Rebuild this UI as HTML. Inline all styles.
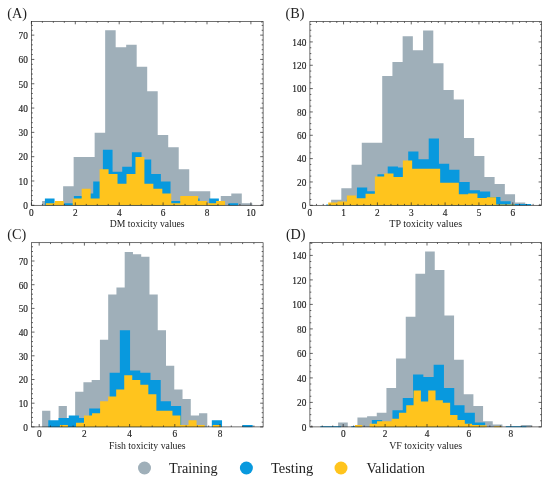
<!DOCTYPE html>
<html><head><meta charset="utf-8"><title>Toxicity histograms</title>
<style>
html,body{margin:0;padding:0;background:#fff;}
svg{display:block;}
text{font-family:"Liberation Serif", "DejaVu Serif", serif;fill:#222;}
.tk{font-size:9.6px;stroke:#222;stroke-width:0.15px;}
.al{font-size:9.4px;}
.pl{font-size:14.2px;}
.lg{font-size:14.3px;}
</style></head><body>
<svg width="550" height="482" viewBox="0 0 550 482">
<rect x="0" y="0" width="550" height="482" fill="#fff"/>
<g>
<clipPath id="cA"><rect x="31.4" y="21.4" width="231.7" height="184.2"/></clipPath>
<g clip-path="url(#cA)">
<path d="M42.1 205.8 L42.1 200.92 L52.61 200.92 L52.61 203.36 L63.12 203.36 L63.12 186.29 L73.63 186.29 L73.63 157.02 L84.14 157.02 L84.14 157.02 L94.65 157.02 L94.65 132.63 L105.16 132.63 L105.16 30.19 L115.67 30.19 L115.67 47.27 L126.18 47.27 L126.18 44.83 L136.69 44.83 L136.69 66.78 L147.2 66.78 L147.2 91.17 L157.71 91.17 L157.71 135.07 L168.22 135.07 L168.22 147.26 L178.73 147.26 L178.73 169.22 L189.24 169.22 L189.24 191.17 L199.75 191.17 L199.75 191.17 L210.26 191.17 L210.26 200.92 L220.77 200.92 L220.77 196.04 L231.28 196.04 L231.28 193.61 L241.79 193.61 L241.79 203.36 L252.3 203.36 L252.3 205.8 Z" fill="#9fafb9"/>
<path d="M44.9 205.8 L44.9 198.48 L54.56 198.48 L54.56 205.8 L64.23 205.8 L64.23 203.36 L73.89 203.36 L73.89 196.04 L83.56 196.04 L83.56 193.61 L93.22 193.61 L93.22 181.41 L102.89 181.41 L102.89 149.7 L112.56 149.7 L112.56 171.65 L122.22 171.65 L122.22 166.78 L131.88 166.78 L131.88 152.14 L141.55 152.14 L141.55 159.46 L151.22 159.46 L151.22 174.09 L160.88 174.09 L160.88 181.41 L170.54 181.41 L170.54 200.92 L180.21 200.92 L180.21 200.92 L189.88 200.92 L189.88 198.48 L199.54 198.48 L199.54 205.8 L209.2 205.8 L209.2 198.48 L218.87 198.48 L218.87 205.8 L228.53 205.8 L228.53 203.36 L238.2 203.36 L238.2 205.8 Z" fill="#0899de"/>
<path d="M45.85 205.8 L45.85 203.36 L54.81 203.36 L54.81 200.92 L63.77 200.92 L63.77 205.8 L72.73 205.8 L72.73 198.48 L81.69 198.48 L81.69 188.73 L90.65 188.73 L90.65 198.48 L99.61 198.48 L99.61 169.22 L108.57 169.22 L108.57 174.09 L117.53 174.09 L117.53 183.85 L126.49 183.85 L126.49 174.09 L135.45 174.09 L135.45 157.02 L144.41 157.02 L144.41 183.85 L153.37 183.85 L153.37 188.73 L162.33 188.73 L162.33 193.61 L171.29 193.61 L171.29 203.36 L180.25 203.36 L180.25 196.04 L189.21 196.04 L189.21 196.04 L198.17 196.04 L198.17 200.92 L207.13 200.92 L207.13 203.36 L216.09 203.36 L216.09 200.92 L225.05 200.92 L225.05 205.8 Z" fill="#ffc41d"/>
</g>
<path d="M31.4 205.3 v-2.9 M31.4 21.4 v2.9 M42.38 205.3 v-1.4 M42.38 21.4 v1.4 M53.35 205.3 v-1.4 M53.35 21.4 v1.4 M64.32 205.3 v-1.4 M64.32 21.4 v1.4 M75.3 205.3 v-2.9 M75.3 21.4 v2.9 M86.28 205.3 v-1.4 M86.28 21.4 v1.4 M97.25 205.3 v-1.4 M97.25 21.4 v1.4 M108.22 205.3 v-1.4 M108.22 21.4 v1.4 M119.2 205.3 v-2.9 M119.2 21.4 v2.9 M130.17 205.3 v-1.4 M130.17 21.4 v1.4 M141.15 205.3 v-1.4 M141.15 21.4 v1.4 M152.12 205.3 v-1.4 M152.12 21.4 v1.4 M163.1 205.3 v-2.9 M163.1 21.4 v2.9 M174.07 205.3 v-1.4 M174.07 21.4 v1.4 M185.05 205.3 v-1.4 M185.05 21.4 v1.4 M196.03 205.3 v-1.4 M196.03 21.4 v1.4 M207 205.3 v-2.9 M207 21.4 v2.9 M217.97 205.3 v-1.4 M217.97 21.4 v1.4 M228.95 205.3 v-1.4 M228.95 21.4 v1.4 M239.93 205.3 v-1.4 M239.93 21.4 v1.4 M250.9 205.3 v-2.9 M250.9 21.4 v2.9 M261.88 205.3 v-1.4 M261.88 21.4 v1.4 M31.4 205.3 h2.9 M263.1 205.3 h-2.9 M31.4 200.44 h1.4 M263.1 200.44 h-1.4 M31.4 195.58 h1.4 M263.1 195.58 h-1.4 M31.4 190.71 h1.4 M263.1 190.71 h-1.4 M31.4 185.85 h1.4 M263.1 185.85 h-1.4 M31.4 180.99 h2.9 M263.1 180.99 h-2.9 M31.4 176.13 h1.4 M263.1 176.13 h-1.4 M31.4 171.27 h1.4 M263.1 171.27 h-1.4 M31.4 166.4 h1.4 M263.1 166.4 h-1.4 M31.4 161.54 h1.4 M263.1 161.54 h-1.4 M31.4 156.68 h2.9 M263.1 156.68 h-2.9 M31.4 151.82 h1.4 M263.1 151.82 h-1.4 M31.4 146.96 h1.4 M263.1 146.96 h-1.4 M31.4 142.09 h1.4 M263.1 142.09 h-1.4 M31.4 137.23 h1.4 M263.1 137.23 h-1.4 M31.4 132.37 h2.9 M263.1 132.37 h-2.9 M31.4 127.51 h1.4 M263.1 127.51 h-1.4 M31.4 122.65 h1.4 M263.1 122.65 h-1.4 M31.4 117.78 h1.4 M263.1 117.78 h-1.4 M31.4 112.92 h1.4 M263.1 112.92 h-1.4 M31.4 108.06 h2.9 M263.1 108.06 h-2.9 M31.4 103.2 h1.4 M263.1 103.2 h-1.4 M31.4 98.34 h1.4 M263.1 98.34 h-1.4 M31.4 93.47 h1.4 M263.1 93.47 h-1.4 M31.4 88.61 h1.4 M263.1 88.61 h-1.4 M31.4 83.75 h2.9 M263.1 83.75 h-2.9 M31.4 78.89 h1.4 M263.1 78.89 h-1.4 M31.4 74.03 h1.4 M263.1 74.03 h-1.4 M31.4 69.16 h1.4 M263.1 69.16 h-1.4 M31.4 64.3 h1.4 M263.1 64.3 h-1.4 M31.4 59.44 h2.9 M263.1 59.44 h-2.9 M31.4 54.58 h1.4 M263.1 54.58 h-1.4 M31.4 49.72 h1.4 M263.1 49.72 h-1.4 M31.4 44.85 h1.4 M263.1 44.85 h-1.4 M31.4 39.99 h1.4 M263.1 39.99 h-1.4 M31.4 35.13 h2.9 M263.1 35.13 h-2.9 M31.4 30.27 h1.4 M263.1 30.27 h-1.4 M31.4 25.41 h1.4 M263.1 25.41 h-1.4" stroke="#222" stroke-width="0.7" fill="none"/>
<rect x="31.4" y="21.4" width="231.7" height="183.9" fill="none" stroke="#222" stroke-width="0.65"/>
<text class="tk" x="31.4" y="215.7" text-anchor="middle" textLength="4.65" lengthAdjust="spacingAndGlyphs">0</text>
<text class="tk" x="75.3" y="215.7" text-anchor="middle" textLength="4.65" lengthAdjust="spacingAndGlyphs">2</text>
<text class="tk" x="119.2" y="215.7" text-anchor="middle" textLength="4.65" lengthAdjust="spacingAndGlyphs">4</text>
<text class="tk" x="163.1" y="215.7" text-anchor="middle" textLength="4.65" lengthAdjust="spacingAndGlyphs">6</text>
<text class="tk" x="207" y="215.7" text-anchor="middle" textLength="4.65" lengthAdjust="spacingAndGlyphs">8</text>
<text class="tk" x="250.9" y="215.7" text-anchor="middle" textLength="9.3" lengthAdjust="spacingAndGlyphs">10</text>
<text class="tk" x="27.8" y="209.1" text-anchor="end" textLength="4.65" lengthAdjust="spacingAndGlyphs">0</text>
<text class="tk" x="27.8" y="184.79" text-anchor="end" textLength="9.3" lengthAdjust="spacingAndGlyphs">10</text>
<text class="tk" x="27.8" y="160.48" text-anchor="end" textLength="9.3" lengthAdjust="spacingAndGlyphs">20</text>
<text class="tk" x="27.8" y="136.17" text-anchor="end" textLength="9.3" lengthAdjust="spacingAndGlyphs">30</text>
<text class="tk" x="27.8" y="111.86" text-anchor="end" textLength="9.3" lengthAdjust="spacingAndGlyphs">40</text>
<text class="tk" x="27.8" y="87.55" text-anchor="end" textLength="9.3" lengthAdjust="spacingAndGlyphs">50</text>
<text class="tk" x="27.8" y="63.24" text-anchor="end" textLength="9.3" lengthAdjust="spacingAndGlyphs">60</text>
<text class="tk" x="27.8" y="38.93" text-anchor="end" textLength="9.3" lengthAdjust="spacingAndGlyphs">70</text>
<text class="al" x="147.25" y="227.3" text-anchor="middle" textLength="74.8" lengthAdjust="spacingAndGlyphs">DM toxicity values</text>
<text class="pl" x="7.3" y="17.8">(A)</text>
</g>
<g>
<clipPath id="cB"><rect x="309.9" y="21.5" width="231.6" height="184.1"/></clipPath>
<g clip-path="url(#cB)">
<path d="M331.1 205.7 L331.1 199.86 L341.32 199.86 L341.32 188.18 L351.54 188.18 L351.54 164.82 L361.76 164.82 L361.76 142.63 L371.98 142.63 L371.98 142.63 L382.2 142.63 L382.2 76.05 L392.42 76.05 L392.42 62.04 L402.64 62.04 L402.64 36.34 L412.86 36.34 L412.86 50.36 L423.08 50.36 L423.08 30.5 L433.3 30.5 L433.3 63.2 L443.52 63.2 L443.52 90.07 L453.74 90.07 L453.74 99.41 L463.96 99.41 L463.96 137.96 L474.18 137.96 L474.18 156.06 L484.4 156.06 L484.4 177.08 L494.62 177.08 L494.62 184.09 L504.84 184.09 L504.84 194.25 L515.06 194.25 L515.06 202.43 L525.28 202.43 L525.28 205.7 Z" fill="#9fafb9"/>
<path d="M326.2 205.7 L326.2 204.53 L336.45 204.53 L336.45 203.36 L346.7 203.36 L346.7 199.86 L356.95 199.86 L356.95 187.48 L367.2 187.48 L367.2 191.33 L377.45 191.33 L377.45 174.16 L387.7 174.16 L387.7 166.46 L397.95 166.46 L397.95 167.39 L408.2 167.39 L408.2 151.5 L418.45 151.5 L418.45 159.21 L428.7 159.21 L428.7 138.42 L438.95 138.42 L438.95 163.65 L449.2 163.65 L449.2 169.73 L459.45 169.73 L459.45 181.99 L469.7 181.99 L469.7 190.28 L479.95 190.28 L479.95 191.57 L490.2 191.57 L490.2 196.94 L500.45 196.94 L500.45 201.26 L510.7 201.26 L510.7 204.06 L520.95 204.06 L520.95 204.06 L531.2 204.06 L531.2 205.7 Z" fill="#0899de"/>
<path d="M328.2 205.7 L328.2 202.43 L337.53 202.43 L337.53 201.5 L346.86 201.5 L346.86 195.54 L356.19 195.54 L356.19 198.22 L365.52 198.22 L365.52 193.79 L374.85 193.79 L374.85 176.5 L384.18 176.5 L384.18 173.46 L393.51 173.46 L393.51 176.97 L402.84 176.97 L402.84 160.38 L412.17 160.38 L412.17 168.79 L421.5 168.79 L421.5 168.79 L430.83 168.79 L430.83 168.79 L440.16 168.79 L440.16 182.69 L449.49 182.69 L449.49 182.69 L458.82 182.69 L458.82 194.25 L468.15 194.25 L468.15 193.44 L477.48 193.44 L477.48 198.11 L486.81 198.11 L486.81 197.17 L496.14 197.17 L496.14 204.53 L505.47 204.53 L505.47 204.53 L514.8 204.53 L514.8 205.7 Z" fill="#ffc41d"/>
</g>
<path d="M316.47 205.3 v-1.4 M316.47 21.5 v1.4 M323.24 205.3 v-1.4 M323.24 21.5 v1.4 M330.01 205.3 v-1.4 M330.01 21.5 v1.4 M336.78 205.3 v-1.4 M336.78 21.5 v1.4 M343.55 205.3 v-2.9 M343.55 21.5 v2.9 M350.32 205.3 v-1.4 M350.32 21.5 v1.4 M357.09 205.3 v-1.4 M357.09 21.5 v1.4 M363.86 205.3 v-1.4 M363.86 21.5 v1.4 M370.63 205.3 v-1.4 M370.63 21.5 v1.4 M377.4 205.3 v-2.9 M377.4 21.5 v2.9 M384.17 205.3 v-1.4 M384.17 21.5 v1.4 M390.94 205.3 v-1.4 M390.94 21.5 v1.4 M397.71 205.3 v-1.4 M397.71 21.5 v1.4 M404.48 205.3 v-1.4 M404.48 21.5 v1.4 M411.25 205.3 v-2.9 M411.25 21.5 v2.9 M418.02 205.3 v-1.4 M418.02 21.5 v1.4 M424.79 205.3 v-1.4 M424.79 21.5 v1.4 M431.56 205.3 v-1.4 M431.56 21.5 v1.4 M438.33 205.3 v-1.4 M438.33 21.5 v1.4 M445.1 205.3 v-2.9 M445.1 21.5 v2.9 M451.87 205.3 v-1.4 M451.87 21.5 v1.4 M458.64 205.3 v-1.4 M458.64 21.5 v1.4 M465.41 205.3 v-1.4 M465.41 21.5 v1.4 M472.18 205.3 v-1.4 M472.18 21.5 v1.4 M478.95 205.3 v-2.9 M478.95 21.5 v2.9 M485.72 205.3 v-1.4 M485.72 21.5 v1.4 M492.49 205.3 v-1.4 M492.49 21.5 v1.4 M499.26 205.3 v-1.4 M499.26 21.5 v1.4 M506.03 205.3 v-1.4 M506.03 21.5 v1.4 M512.8 205.3 v-2.9 M512.8 21.5 v2.9 M519.57 205.3 v-1.4 M519.57 21.5 v1.4 M526.34 205.3 v-1.4 M526.34 21.5 v1.4 M533.11 205.3 v-1.4 M533.11 21.5 v1.4 M539.88 205.3 v-1.4 M539.88 21.5 v1.4 M309.9 205.3 h2.9 M541.5 205.3 h-2.9 M309.9 199.47 h1.4 M541.5 199.47 h-1.4 M309.9 193.63 h1.4 M541.5 193.63 h-1.4 M309.9 187.8 h1.4 M541.5 187.8 h-1.4 M309.9 181.96 h2.9 M541.5 181.96 h-2.9 M309.9 176.12 h1.4 M541.5 176.12 h-1.4 M309.9 170.29 h1.4 M541.5 170.29 h-1.4 M309.9 164.46 h1.4 M541.5 164.46 h-1.4 M309.9 158.62 h2.9 M541.5 158.62 h-2.9 M309.9 152.79 h1.4 M541.5 152.79 h-1.4 M309.9 146.95 h1.4 M541.5 146.95 h-1.4 M309.9 141.12 h1.4 M541.5 141.12 h-1.4 M309.9 135.28 h2.9 M541.5 135.28 h-2.9 M309.9 129.44 h1.4 M541.5 129.44 h-1.4 M309.9 123.61 h1.4 M541.5 123.61 h-1.4 M309.9 117.78 h1.4 M541.5 117.78 h-1.4 M309.9 111.94 h2.9 M541.5 111.94 h-2.9 M309.9 106.11 h1.4 M541.5 106.11 h-1.4 M309.9 100.27 h1.4 M541.5 100.27 h-1.4 M309.9 94.44 h1.4 M541.5 94.44 h-1.4 M309.9 88.6 h2.9 M541.5 88.6 h-2.9 M309.9 82.77 h1.4 M541.5 82.77 h-1.4 M309.9 76.93 h1.4 M541.5 76.93 h-1.4 M309.9 71.09 h1.4 M541.5 71.09 h-1.4 M309.9 65.26 h2.9 M541.5 65.26 h-2.9 M309.9 59.43 h1.4 M541.5 59.43 h-1.4 M309.9 53.59 h1.4 M541.5 53.59 h-1.4 M309.9 47.75 h1.4 M541.5 47.75 h-1.4 M309.9 41.92 h2.9 M541.5 41.92 h-2.9 M309.9 36.09 h1.4 M541.5 36.09 h-1.4 M309.9 30.25 h1.4 M541.5 30.25 h-1.4 M309.9 24.41 h1.4 M541.5 24.41 h-1.4" stroke="#222" stroke-width="0.7" fill="none"/>
<rect x="309.9" y="21.5" width="231.6" height="183.8" fill="none" stroke="#222" stroke-width="0.65"/>
<text class="tk" x="309.7" y="215.7" text-anchor="middle" textLength="4.65" lengthAdjust="spacingAndGlyphs">0</text>
<text class="tk" x="343.55" y="215.7" text-anchor="middle" textLength="4.65" lengthAdjust="spacingAndGlyphs">1</text>
<text class="tk" x="377.4" y="215.7" text-anchor="middle" textLength="4.65" lengthAdjust="spacingAndGlyphs">2</text>
<text class="tk" x="411.25" y="215.7" text-anchor="middle" textLength="4.65" lengthAdjust="spacingAndGlyphs">3</text>
<text class="tk" x="445.1" y="215.7" text-anchor="middle" textLength="4.65" lengthAdjust="spacingAndGlyphs">4</text>
<text class="tk" x="478.95" y="215.7" text-anchor="middle" textLength="4.65" lengthAdjust="spacingAndGlyphs">5</text>
<text class="tk" x="512.8" y="215.7" text-anchor="middle" textLength="4.65" lengthAdjust="spacingAndGlyphs">6</text>
<text class="tk" x="306.3" y="209.1" text-anchor="end" textLength="4.65" lengthAdjust="spacingAndGlyphs">0</text>
<text class="tk" x="306.3" y="185.76" text-anchor="end" textLength="9.3" lengthAdjust="spacingAndGlyphs">20</text>
<text class="tk" x="306.3" y="162.42" text-anchor="end" textLength="9.3" lengthAdjust="spacingAndGlyphs">40</text>
<text class="tk" x="306.3" y="139.08" text-anchor="end" textLength="9.3" lengthAdjust="spacingAndGlyphs">60</text>
<text class="tk" x="306.3" y="115.74" text-anchor="end" textLength="9.3" lengthAdjust="spacingAndGlyphs">80</text>
<text class="tk" x="306.3" y="92.4" text-anchor="end" textLength="13.95" lengthAdjust="spacingAndGlyphs">100</text>
<text class="tk" x="306.3" y="69.06" text-anchor="end" textLength="13.95" lengthAdjust="spacingAndGlyphs">120</text>
<text class="tk" x="306.3" y="45.72" text-anchor="end" textLength="13.95" lengthAdjust="spacingAndGlyphs">140</text>
<text class="al" x="425.7" y="227.3" text-anchor="middle" textLength="72.7" lengthAdjust="spacingAndGlyphs">TP toxicity values</text>
<text class="pl" x="285.6" y="17.8">(B)</text>
</g>
<g>
<clipPath id="cC"><rect x="31.6" y="242.7" width="231.5" height="184.5"/></clipPath>
<g clip-path="url(#cC)">
<path d="M42.1 427.4 L42.1 410.8 L50.36 410.8 L50.36 422.66 L58.62 422.66 L58.62 406.06 L66.88 406.06 L66.88 420.29 L75.14 420.29 L75.14 391.83 L83.4 391.83 L83.4 382.34 L91.66 382.34 L91.66 379.97 L99.92 379.97 L99.92 339.65 L108.18 339.65 L108.18 294.59 L116.44 294.59 L116.44 287.48 L124.7 287.48 L124.7 251.9 L132.96 251.9 L132.96 254.27 L141.22 254.27 L141.22 256.64 L149.48 256.64 L149.48 294.59 L157.74 294.59 L157.74 330.16 L166 330.16 L166 365.74 L174.26 365.74 L174.26 389.45 L182.52 389.45 L182.52 398.94 L190.78 398.94 L190.78 415.54 L199.04 415.54 L199.04 413.17 L207.3 413.17 L207.3 427.4 Z" fill="#9fafb9"/>
<path d="M48.3 427.4 L48.3 420.29 L58.52 420.29 L58.52 417.91 L68.74 417.91 L68.74 415.54 L78.96 415.54 L78.96 417.91 L89.18 417.91 L89.18 408.43 L99.4 408.43 L99.4 408.43 L109.62 408.43 L109.62 372.85 L119.84 372.85 L119.84 330.16 L130.06 330.16 L130.06 370.48 L140.28 370.48 L140.28 372.85 L150.5 372.85 L150.5 379.97 L160.72 379.97 L160.72 401.31 L170.94 401.31 L170.94 406.06 L181.16 406.06 L181.16 427.4 L191.38 427.4 L191.38 427.4 L201.6 427.4 L201.6 427.4 L211.82 427.4 L211.82 420.29 L222.04 420.29 L222.04 427.4 L232.26 427.4 L232.26 427.4 L242.48 427.4 L242.48 425.03 L252.7 425.03 L252.7 427.4 Z" fill="#0899de"/>
<path d="M59.9 427.4 L59.9 425.03 L67.94 425.03 L67.94 427.4 L75.98 427.4 L75.98 422.66 L84.02 422.66 L84.02 415.54 L92.06 415.54 L92.06 413.17 L100.1 413.17 L100.1 401.31 L108.14 401.31 L108.14 396.57 L116.18 396.57 L116.18 389.45 L124.22 389.45 L124.22 375.22 L132.26 375.22 L132.26 379.97 L140.3 379.97 L140.3 384.71 L148.34 384.71 L148.34 394.2 L156.38 394.2 L156.38 410.8 L164.42 410.8 L164.42 410.8 L172.46 410.8 L172.46 415.54 L180.5 415.54 L180.5 425.03 L188.54 425.03 L188.54 420.29 L196.58 420.29 L196.58 425.03 L204.62 425.03 L204.62 427.4 L212.66 427.4 L212.66 425.03 L220.7 425.03 L220.7 427.4 Z" fill="#ffc41d"/>
</g>
<path d="M39.2 426.9 v-2.9 M39.2 242.7 v2.9 M50.5 426.9 v-1.4 M50.5 242.7 v1.4 M61.8 426.9 v-1.4 M61.8 242.7 v1.4 M73.1 426.9 v-1.4 M73.1 242.7 v1.4 M84.4 426.9 v-2.9 M84.4 242.7 v2.9 M95.7 426.9 v-1.4 M95.7 242.7 v1.4 M107 426.9 v-1.4 M107 242.7 v1.4 M118.3 426.9 v-1.4 M118.3 242.7 v1.4 M129.6 426.9 v-2.9 M129.6 242.7 v2.9 M140.9 426.9 v-1.4 M140.9 242.7 v1.4 M152.2 426.9 v-1.4 M152.2 242.7 v1.4 M163.5 426.9 v-1.4 M163.5 242.7 v1.4 M174.8 426.9 v-2.9 M174.8 242.7 v2.9 M186.1 426.9 v-1.4 M186.1 242.7 v1.4 M197.4 426.9 v-1.4 M197.4 242.7 v1.4 M208.7 426.9 v-1.4 M208.7 242.7 v1.4 M220 426.9 v-2.9 M220 242.7 v2.9 M231.3 426.9 v-1.4 M231.3 242.7 v1.4 M242.6 426.9 v-1.4 M242.6 242.7 v1.4 M253.9 426.9 v-1.4 M253.9 242.7 v1.4 M31.6 426.9 h2.9 M263.1 426.9 h-2.9 M31.6 422.16 h1.4 M263.1 422.16 h-1.4 M31.6 417.42 h1.4 M263.1 417.42 h-1.4 M31.6 412.68 h1.4 M263.1 412.68 h-1.4 M31.6 407.94 h1.4 M263.1 407.94 h-1.4 M31.6 403.2 h2.9 M263.1 403.2 h-2.9 M31.6 398.46 h1.4 M263.1 398.46 h-1.4 M31.6 393.72 h1.4 M263.1 393.72 h-1.4 M31.6 388.98 h1.4 M263.1 388.98 h-1.4 M31.6 384.24 h1.4 M263.1 384.24 h-1.4 M31.6 379.5 h2.9 M263.1 379.5 h-2.9 M31.6 374.76 h1.4 M263.1 374.76 h-1.4 M31.6 370.02 h1.4 M263.1 370.02 h-1.4 M31.6 365.28 h1.4 M263.1 365.28 h-1.4 M31.6 360.54 h1.4 M263.1 360.54 h-1.4 M31.6 355.8 h2.9 M263.1 355.8 h-2.9 M31.6 351.06 h1.4 M263.1 351.06 h-1.4 M31.6 346.32 h1.4 M263.1 346.32 h-1.4 M31.6 341.58 h1.4 M263.1 341.58 h-1.4 M31.6 336.84 h1.4 M263.1 336.84 h-1.4 M31.6 332.1 h2.9 M263.1 332.1 h-2.9 M31.6 327.36 h1.4 M263.1 327.36 h-1.4 M31.6 322.62 h1.4 M263.1 322.62 h-1.4 M31.6 317.88 h1.4 M263.1 317.88 h-1.4 M31.6 313.14 h1.4 M263.1 313.14 h-1.4 M31.6 308.4 h2.9 M263.1 308.4 h-2.9 M31.6 303.66 h1.4 M263.1 303.66 h-1.4 M31.6 298.92 h1.4 M263.1 298.92 h-1.4 M31.6 294.18 h1.4 M263.1 294.18 h-1.4 M31.6 289.44 h1.4 M263.1 289.44 h-1.4 M31.6 284.7 h2.9 M263.1 284.7 h-2.9 M31.6 279.96 h1.4 M263.1 279.96 h-1.4 M31.6 275.22 h1.4 M263.1 275.22 h-1.4 M31.6 270.48 h1.4 M263.1 270.48 h-1.4 M31.6 265.74 h1.4 M263.1 265.74 h-1.4 M31.6 261 h2.9 M263.1 261 h-2.9 M31.6 256.26 h1.4 M263.1 256.26 h-1.4 M31.6 251.52 h1.4 M263.1 251.52 h-1.4 M31.6 246.78 h1.4 M263.1 246.78 h-1.4" stroke="#222" stroke-width="0.7" fill="none"/>
<rect x="31.6" y="242.7" width="231.5" height="184.2" fill="none" stroke="#222" stroke-width="0.65"/>
<text class="tk" x="39.2" y="437.3" text-anchor="middle" textLength="4.65" lengthAdjust="spacingAndGlyphs">0</text>
<text class="tk" x="84.4" y="437.3" text-anchor="middle" textLength="4.65" lengthAdjust="spacingAndGlyphs">2</text>
<text class="tk" x="129.6" y="437.3" text-anchor="middle" textLength="4.65" lengthAdjust="spacingAndGlyphs">4</text>
<text class="tk" x="174.8" y="437.3" text-anchor="middle" textLength="4.65" lengthAdjust="spacingAndGlyphs">6</text>
<text class="tk" x="220" y="437.3" text-anchor="middle" textLength="4.65" lengthAdjust="spacingAndGlyphs">8</text>
<text class="tk" x="28" y="430.7" text-anchor="end" textLength="4.65" lengthAdjust="spacingAndGlyphs">0</text>
<text class="tk" x="28" y="407" text-anchor="end" textLength="9.3" lengthAdjust="spacingAndGlyphs">10</text>
<text class="tk" x="28" y="383.3" text-anchor="end" textLength="9.3" lengthAdjust="spacingAndGlyphs">20</text>
<text class="tk" x="28" y="359.6" text-anchor="end" textLength="9.3" lengthAdjust="spacingAndGlyphs">30</text>
<text class="tk" x="28" y="335.9" text-anchor="end" textLength="9.3" lengthAdjust="spacingAndGlyphs">40</text>
<text class="tk" x="28" y="312.2" text-anchor="end" textLength="9.3" lengthAdjust="spacingAndGlyphs">50</text>
<text class="tk" x="28" y="288.5" text-anchor="end" textLength="9.3" lengthAdjust="spacingAndGlyphs">60</text>
<text class="tk" x="28" y="264.8" text-anchor="end" textLength="9.3" lengthAdjust="spacingAndGlyphs">70</text>
<text class="al" x="147.35" y="448.9" text-anchor="middle" textLength="76.6" lengthAdjust="spacingAndGlyphs">Fish toxicity values</text>
<text class="pl" x="7.3" y="239.1">(C)</text>
</g>
<g>
<clipPath id="cD"><rect x="309.9" y="242.6" width="231.6" height="184.6"/></clipPath>
<g clip-path="url(#cD)">
<path d="M338.1 427.4 L338.1 422.48 L347.77 422.48 L347.77 427.4 L357.43 427.4 L357.43 417.56 L367.1 417.56 L367.1 416.34 L376.76 416.34 L376.76 412.65 L386.43 412.65 L386.43 388.06 L396.09 388.06 L396.09 358.55 L405.75 358.55 L405.75 316.75 L415.42 316.75 L415.42 273.72 L425.09 273.72 L425.09 251.6 L434.75 251.6 L434.75 270.04 L444.42 270.04 L444.42 315.52 L454.08 315.52 L454.08 359.78 L463.75 359.78 L463.75 394.21 L473.41 394.21 L473.41 405.89 L483.08 405.89 L483.08 421.25 L492.74 421.25 L492.74 424.57 L502.4 424.57 L502.4 427.4 L512.07 427.4 L512.07 427.4 L521.74 427.4 L521.74 424.94 L531.4 424.94 L531.4 427.4 Z" fill="#9fafb9"/>
<path d="M320.35 427.4 L320.35 426.17 L330.65 426.17 L330.65 426.17 L340.95 426.17 L340.95 427.4 L351.25 427.4 L351.25 426.17 L361.55 426.17 L361.55 427.4 L371.85 427.4 L371.85 420.02 L382.15 420.02 L382.15 423.71 L392.45 423.71 L392.45 410.19 L402.75 410.19 L402.75 397.89 L413.05 397.89 L413.05 374.54 L423.35 374.54 L423.35 376.99 L433.65 376.99 L433.65 364.7 L443.95 364.7 L443.95 388.06 L454.25 388.06 L454.25 405.27 L464.55 405.27 L464.55 412.65 L474.85 412.65 L474.85 422.48 L485.15 422.48 L485.15 427.4 L495.45 427.4 L495.45 427.4 L505.75 427.4 L505.75 426.17 L516.05 426.17 L516.05 426.17 L526.35 426.17 L526.35 427.4 Z" fill="#0899de"/>
<path d="M355 427.4 L355 424.94 L362.32 424.94 L362.32 427.4 L369.64 427.4 L369.64 423.71 L376.96 423.71 L376.96 421.25 L384.28 421.25 L384.28 421.25 L391.6 421.25 L391.6 418.79 L398.92 418.79 L398.92 412.65 L406.24 412.65 L406.24 405.27 L413.56 405.27 L413.56 390.52 L420.88 390.52 L420.88 401.58 L428.2 401.58 L428.2 390.52 L435.52 390.52 L435.52 400.35 L442.84 400.35 L442.84 402.81 L450.16 402.81 L450.16 415.11 L457.48 415.11 L457.48 420.02 L464.8 420.02 L464.8 423.71 L472.12 423.71 L472.12 424.94 L479.44 424.94 L479.44 425.31 L486.76 425.31 L486.76 427.4 L494.08 427.4 L494.08 426.17 L501.4 426.17 L501.4 427.4 Z" fill="#ffc41d"/>
</g>
<path d="M311.77 426.9 v-1.4 M311.77 242.6 v1.4 M322.25 426.9 v-1.4 M322.25 242.6 v1.4 M332.72 426.9 v-1.4 M332.72 242.6 v1.4 M343.2 426.9 v-2.9 M343.2 242.6 v2.9 M353.68 426.9 v-1.4 M353.68 242.6 v1.4 M364.15 426.9 v-1.4 M364.15 242.6 v1.4 M374.62 426.9 v-1.4 M374.62 242.6 v1.4 M385.1 426.9 v-2.9 M385.1 242.6 v2.9 M395.57 426.9 v-1.4 M395.57 242.6 v1.4 M406.05 426.9 v-1.4 M406.05 242.6 v1.4 M416.52 426.9 v-1.4 M416.52 242.6 v1.4 M427 426.9 v-2.9 M427 242.6 v2.9 M437.47 426.9 v-1.4 M437.47 242.6 v1.4 M447.95 426.9 v-1.4 M447.95 242.6 v1.4 M458.42 426.9 v-1.4 M458.42 242.6 v1.4 M468.9 426.9 v-2.9 M468.9 242.6 v2.9 M479.38 426.9 v-1.4 M479.38 242.6 v1.4 M489.85 426.9 v-1.4 M489.85 242.6 v1.4 M500.32 426.9 v-1.4 M500.32 242.6 v1.4 M510.8 426.9 v-2.9 M510.8 242.6 v2.9 M521.27 426.9 v-1.4 M521.27 242.6 v1.4 M531.75 426.9 v-1.4 M531.75 242.6 v1.4 M309.9 426.9 h2.9 M541.5 426.9 h-2.9 M309.9 420.77 h1.4 M541.5 420.77 h-1.4 M309.9 414.65 h1.4 M541.5 414.65 h-1.4 M309.9 408.52 h1.4 M541.5 408.52 h-1.4 M309.9 402.4 h2.9 M541.5 402.4 h-2.9 M309.9 396.27 h1.4 M541.5 396.27 h-1.4 M309.9 390.15 h1.4 M541.5 390.15 h-1.4 M309.9 384.02 h1.4 M541.5 384.02 h-1.4 M309.9 377.9 h2.9 M541.5 377.9 h-2.9 M309.9 371.77 h1.4 M541.5 371.77 h-1.4 M309.9 365.65 h1.4 M541.5 365.65 h-1.4 M309.9 359.52 h1.4 M541.5 359.52 h-1.4 M309.9 353.4 h2.9 M541.5 353.4 h-2.9 M309.9 347.27 h1.4 M541.5 347.27 h-1.4 M309.9 341.15 h1.4 M541.5 341.15 h-1.4 M309.9 335.02 h1.4 M541.5 335.02 h-1.4 M309.9 328.9 h2.9 M541.5 328.9 h-2.9 M309.9 322.77 h1.4 M541.5 322.77 h-1.4 M309.9 316.65 h1.4 M541.5 316.65 h-1.4 M309.9 310.52 h1.4 M541.5 310.52 h-1.4 M309.9 304.4 h2.9 M541.5 304.4 h-2.9 M309.9 298.27 h1.4 M541.5 298.27 h-1.4 M309.9 292.15 h1.4 M541.5 292.15 h-1.4 M309.9 286.02 h1.4 M541.5 286.02 h-1.4 M309.9 279.9 h2.9 M541.5 279.9 h-2.9 M309.9 273.77 h1.4 M541.5 273.77 h-1.4 M309.9 267.65 h1.4 M541.5 267.65 h-1.4 M309.9 261.52 h1.4 M541.5 261.52 h-1.4 M309.9 255.4 h2.9 M541.5 255.4 h-2.9 M309.9 249.27 h1.4 M541.5 249.27 h-1.4 M309.9 243.15 h1.4 M541.5 243.15 h-1.4" stroke="#222" stroke-width="0.7" fill="none"/>
<rect x="309.9" y="242.6" width="231.6" height="184.3" fill="none" stroke="#222" stroke-width="0.65"/>
<text class="tk" x="343.2" y="437.3" text-anchor="middle" textLength="4.65" lengthAdjust="spacingAndGlyphs">0</text>
<text class="tk" x="385.1" y="437.3" text-anchor="middle" textLength="4.65" lengthAdjust="spacingAndGlyphs">2</text>
<text class="tk" x="427" y="437.3" text-anchor="middle" textLength="4.65" lengthAdjust="spacingAndGlyphs">4</text>
<text class="tk" x="468.9" y="437.3" text-anchor="middle" textLength="4.65" lengthAdjust="spacingAndGlyphs">6</text>
<text class="tk" x="510.8" y="437.3" text-anchor="middle" textLength="4.65" lengthAdjust="spacingAndGlyphs">8</text>
<text class="tk" x="306.3" y="430.7" text-anchor="end" textLength="4.65" lengthAdjust="spacingAndGlyphs">0</text>
<text class="tk" x="306.3" y="406.2" text-anchor="end" textLength="9.3" lengthAdjust="spacingAndGlyphs">20</text>
<text class="tk" x="306.3" y="381.7" text-anchor="end" textLength="9.3" lengthAdjust="spacingAndGlyphs">40</text>
<text class="tk" x="306.3" y="357.2" text-anchor="end" textLength="9.3" lengthAdjust="spacingAndGlyphs">60</text>
<text class="tk" x="306.3" y="332.7" text-anchor="end" textLength="9.3" lengthAdjust="spacingAndGlyphs">80</text>
<text class="tk" x="306.3" y="308.2" text-anchor="end" textLength="13.95" lengthAdjust="spacingAndGlyphs">100</text>
<text class="tk" x="306.3" y="283.7" text-anchor="end" textLength="13.95" lengthAdjust="spacingAndGlyphs">120</text>
<text class="tk" x="306.3" y="259.2" text-anchor="end" textLength="13.95" lengthAdjust="spacingAndGlyphs">140</text>
<text class="al" x="425.7" y="448.9" text-anchor="middle" textLength="73" lengthAdjust="spacingAndGlyphs">VF toxicity values</text>
<text class="pl" x="285.9" y="238.8">(D)</text>
</g>
<circle cx="144.5" cy="468" r="6.5" fill="#9fafb9"/>
<text class="lg" x="169" y="472.8" textLength="48.6" lengthAdjust="spacingAndGlyphs">Training</text>
<circle cx="246.4" cy="468" r="6.5" fill="#0899de"/>
<text class="lg" x="270.9" y="472.8" textLength="42.4" lengthAdjust="spacingAndGlyphs">Testing</text>
<circle cx="341" cy="468" r="6.5" fill="#ffc41d"/>
<text class="lg" x="366.4" y="472.8" textLength="58.6" lengthAdjust="spacingAndGlyphs">Validation</text>
</svg>
</body></html>
